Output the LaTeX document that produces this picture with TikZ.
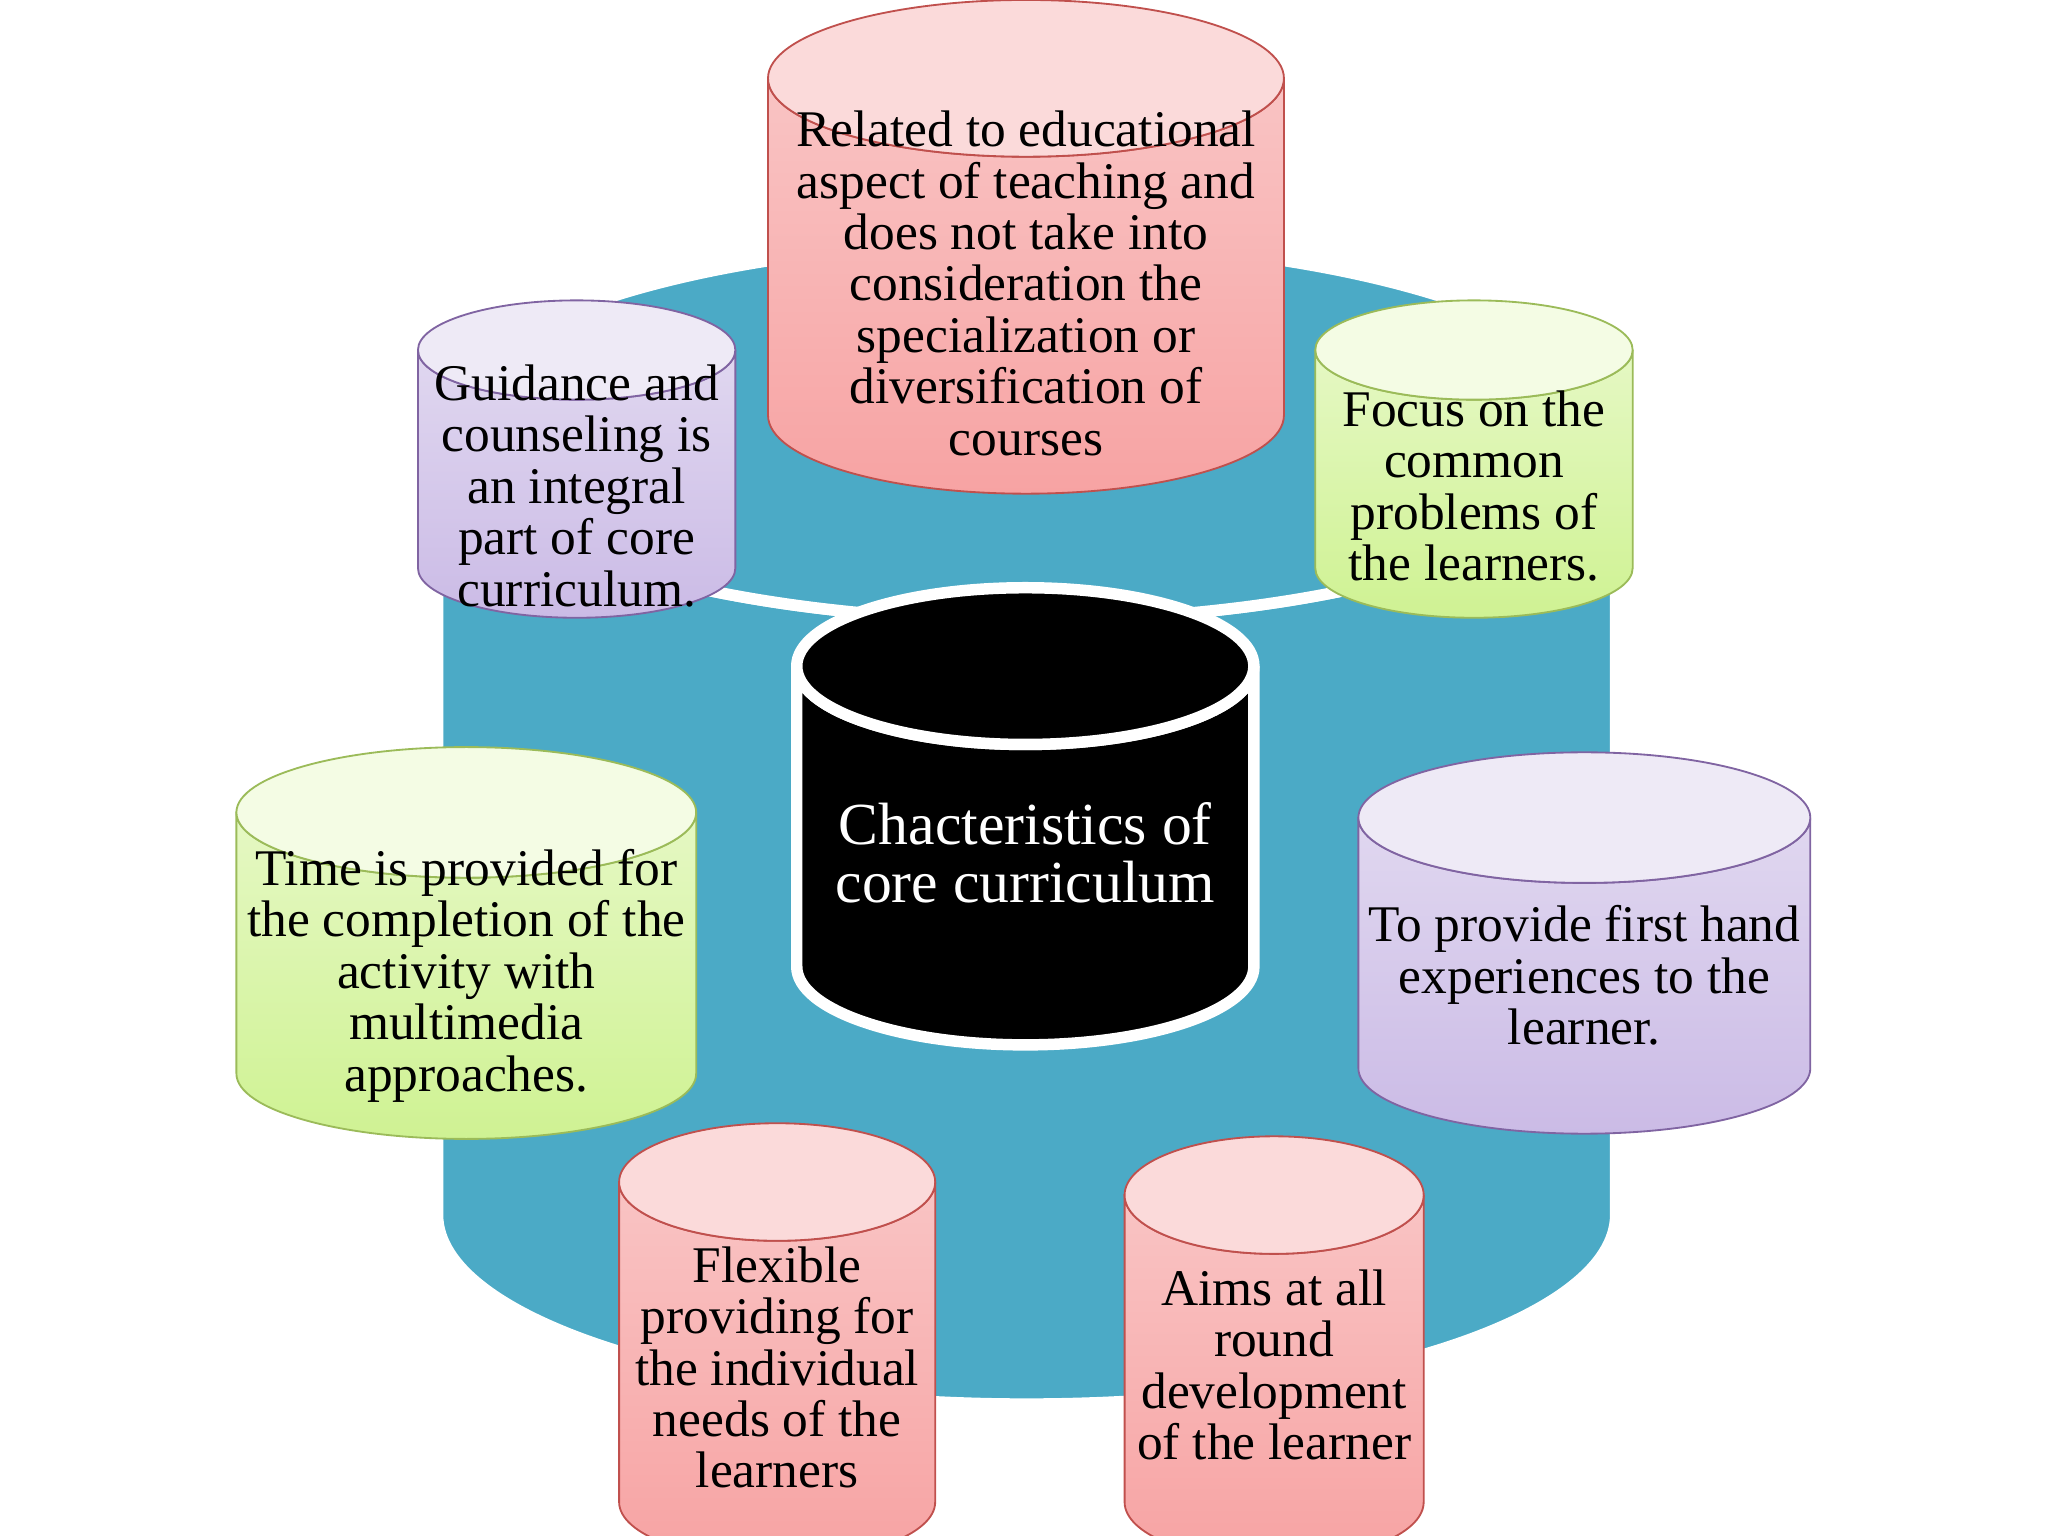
\documentclass[tikz,border=0pt]{standalone}
\usepackage{fontspec}
\setmainfont{Liberation Serif}
\definecolor{pinkT}{HTML}{FBDADA}
\definecolor{pinkB}{HTML}{F7A3A3}
\definecolor{pinkL}{HTML}{C0504D}
\definecolor{lilT}{HTML}{EEEAF6}
\definecolor{lilB}{HTML}{CBBBE6}
\definecolor{lilL}{HTML}{8064A2}
\definecolor{grnT}{HTML}{F4FCE4}
\definecolor{grnB}{HTML}{CFF293}
\definecolor{grnL}{HTML}{9BBB59}
\definecolor{teal}{HTML}{4BAAC6}
% cylinder: name, cx, y top, y bottom, rx, ry, style prefix
\newcommand\drum[7]{%
  \path[#7 body] ({#2-#5},#3) -- ({#2-#5},#4)
    arc[start angle=180,end angle=360,x radius=#5,y radius=#6]
    -- ({#2+#5},#3)
    arc[start angle=0,end angle=-180,x radius=#5,y radius=#6] -- cycle;
  \path[#7 lid] (#2,#3) ellipse[x radius=#5,y radius=#6];
  \coordinate (#1) at (#2,#3);}
\tikzset{
  pink body/.style={top color=pinkT!60!pinkB, bottom color=pinkB, draw=pinkL, thin},
  pink lid/.style={fill=pinkT, draw=pinkL, thin},
  lil body/.style={top color=lilT!60!lilB, bottom color=lilB, draw=lilL, thin},
  lil lid/.style={fill=lilT, draw=lilL, thin},
  grn body/.style={top color=grnT!60!grnB, bottom color=grnB, draw=grnL, thin},
  grn lid/.style={fill=grnT, draw=grnL, thin},
  blue body/.style={fill=teal, draw=white, line width=2.5pt},
  blue lid/.style={fill=teal, draw=white, line width=2.5pt},
  dark body/.style={fill=black, draw=white, line width=2.5pt},
  dark lid/.style={fill=black, draw=white, line width=2.5pt},
  txt/.style={align=center, font=\fontsize{11.2}{11.2}\selectfont, inner sep=0pt},
}
\begin{document}
\begin{tikzpicture}
  \useasboundingbox (0,0) rectangle (15.68,11.76);
  \clip (0,0) rectangle (15.68,11.76);

  % base
  \drum{base}{7.86}{8.46}{2.46}{4.51}{1.45}{blue}

  % top cylinders
  \drum{c1}{7.855}{11.16}{8.58}{1.975}{0.6}{pink}
  \drum{c2}{4.415}{9.08}{7.41}{1.215}{0.38}{lil}
  \drum{c3}{11.285}{9.08}{7.41}{1.215}{0.38}{grn}

  % centre
  \drum{hub}{7.85}{6.66}{4.36}{1.75}{0.6}{dark}

  % side cylinders
  \drum{c4}{3.57}{5.54}{3.54}{1.76}{0.5}{grn}
  \drum{c5}{12.13}{5.50}{3.58}{1.73}{0.5}{lil}

  % bottom cylinders
  \drum{c6}{5.95}{2.71}{0.26}{1.21}{0.45}{pink}
  \drum{c7}{9.755}{2.61}{0.26}{1.145}{0.45}{pink}

  % labels
  \node[txt] (t1) at (7.855,9.59) {Related to educational\\aspect of teaching and\\does not take into\\consideration the\\specialization or\\diversification of\\courses};
  \node[txt] (t2) at (4.415,8.04) {Guidance and\\counseling is\\an integral\\part of core\\curriculum.};
  \node[txt] (t3) at (11.285,8.04) {Focus on the\\common\\problems of\\the learners.};
  \node[txt, text=white, font=\fontsize{13}{12.6}\selectfont] (th) at (7.85,5.23) {Chacteristics of\\core curriculum};
  \node[txt] (t4) at (3.57,4.29) {Time is provided for\\the completion of the\\activity with\\multimedia\\approaches.};
  \node[txt] (t5) at (12.13,4.29) {To provide first hand\\experiences to the\\learner.};
  \node[txt] (t6) at (5.95,1.29) {Flexible\\providing for\\the individual\\needs of the\\learners};
  \node[txt] (t7) at (9.755,1.31) {Aims at all\\round\\development\\of the learner};
\end{tikzpicture}
\end{document}
